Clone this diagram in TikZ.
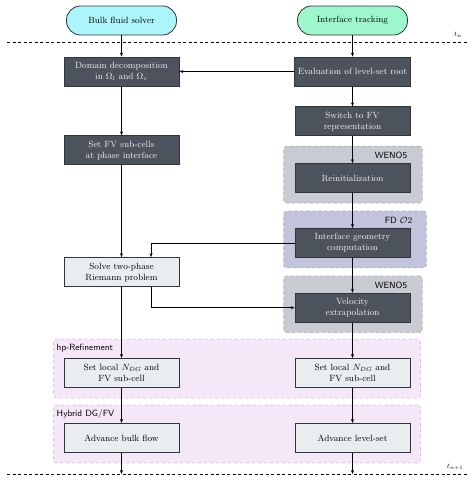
\documentclass[tikz,border=0pt]{standalone}
\usepackage{amsmath,amssymb}
\usepackage{xcolor}
\usepackage{tikz}
\usetikzlibrary{arrows.meta, positioning, calc, fit, backgrounds}
\definecolor{solvercyan}{RGB}{172, 245, 251}
\definecolor{trackgreen}{RGB}{158, 247, 204}
\definecolor{stepdark}{RGB}{76, 83, 93}
\definecolor{stepedge}{RGB}{48, 53, 59}
\definecolor{steplight}{RGB}{234, 237, 239}
\definecolor{wenogray}{RGB}{201, 203, 210}
\definecolor{fdblue}{RGB}{193, 196, 218}
\definecolor{hppink}{RGB}{244, 231, 248}

\begin{document}
\begin{tikzpicture}[
    x=1pt, y=1pt,
    node distance=35pt,
    term/.style={rectangle, draw=stepedge, thick, rounded corners=14pt, minimum width=110pt, minimum height=29pt, align=center, font=\small},
    cyanterm/.style={term, fill=solvercyan},
    greenterm/.style={term, fill=trackgreen},
    box/.style={rectangle, minimum width=115pt, minimum height=29pt, align=center, font=\small},
    darkbox/.style={box, fill=stepdark, draw=stepedge, line width=0.8pt, text=white!88!gray},
    lightbox/.style={box, fill=steplight, draw=stepedge, line width=1pt},
    group/.style={rectangle, dashed, rounded corners=3pt, line width=0.6pt},
    wenogroup/.style={group, fill=wenogray, draw=wenogray!85!black},
    fdgroup/.style={group, fill=fdblue, draw=fdblue!85!black},
    pinkgroup/.style={group, fill=hppink, draw=hppink!80!purple},
    timeline/.style={thick, dash pattern=on 3pt off 2.5pt},
    arrow/.style={-{Stealth[length=4pt, width=3pt]}, line width=0.6pt}
]
\useasboundingbox (0,0) rectangle (474,-480);

% Start terminals
\node[cyanterm] (bulk) at (121.5,-20.5) {Bulk fluid solver};
\node[greenterm] (track) at (352.5,-20.5) {Interface tracking};

% Time levels
\draw[timeline] (7,-42) -- (467,-42);
\draw[timeline] (7,-474) -- (467,-474);
\node[font=\scriptsize] (tn) at (458,-35) {$t_n$};
\node[font=\scriptsize] (tnn) at (455,-467) {$t_{n+1}$};

% Bulk column
\node[darkbox] (domain) at (121.5,-71.5) {Domain decomposition\\in $\Omega_l$ and $\Omega_v$};
\node[darkbox, below=49pt of domain] (subcells) {Set FV sub-cells\\at phase interface};
\node[lightbox, below=92pt of subcells] (riemann) {Solve two-phase\\Riemann problem};
\node[lightbox, at={(121.5,-373)}] (localL) {Set local $N_{DG}$ and\\FV sub-cell};
\node[lightbox, below=of localL] (advanceL) {Advance bulk flow};

% Interface column
\node[darkbox] (levelset) at (352.5,-71.5) {Evaluation of level-set root};
\node[darkbox, below=20pt of levelset] (switch) {Switch to FV\\representation};
\node[darkbox, below=27pt of switch] (reinit) {Reinitialization};
\node[darkbox, below=of reinit] (geometry) {Interface geometry\\computation};
\node[darkbox, below=of geometry] (velocity) {Velocity\\extrapolation};
\node[lightbox, at={(localL -| velocity)}] (localR) {Set local $N_{DG}$ and\\FV sub-cell};
\node[lightbox, at={(advanceL -| velocity)}] (advanceR) {Advance level-set};

% Ends on t_{n+1}
\coordinate (endL) at (121.5,-474);
\coordinate (endR) at (352.5,-474);

% Method groups
\begin{scope}[on background layer]
    \node[wenogroup, fit={([yshift=7pt]reinit.north west) ([xshift=1pt]reinit.south east)}, inner xsep=11pt, inner ysep=10pt,
        label={[anchor=north east, font=\small\sffamily, xshift=-12pt, yshift=-3pt]north east:WENO5}] (weno1) {};
    \node[fdgroup, fit={([yshift=7pt]geometry.north west) ([xshift=5pt]geometry.south east)}, inner xsep=11pt, inner ysep=10pt,
        label={[anchor=north east, font=\small\sffamily, xshift=-11pt, yshift=-3pt]north east:FD $\mathcal{O}2$}] (fd) {};
    \node[wenogroup, fit={([yshift=7pt]velocity.north west) ([xshift=1pt]velocity.south east)}, inner xsep=11pt, inner ysep=10pt,
        label={[anchor=north east, font=\small\sffamily, xshift=-12pt, yshift=-3pt]north east:WENO5}] (weno2) {};
    \node[pinkgroup, fit={([yshift=9pt]localL.north west) (localR.south east)}, inner sep=10pt,
        label={[anchor=north west, font=\small\sffamily, yshift=-2pt]north west:hp-Refinement}] (hp) {};
    \node[pinkgroup, fit={([yshift=8pt]advanceL.north west) (advanceR.south east)}, inner sep=10pt,
        label={[anchor=north west, font=\small\sffamily, yshift=-2pt]north west:Hybrid DG/FV}] (hybrid) {};
\end{scope}

% Arrows
\draw[arrow] (bulk) -- (domain);
\draw[arrow] (track) -- (levelset);
\draw[arrow] (levelset) -- (domain);
\draw[arrow] (domain) -- (subcells);
\draw[arrow] (subcells) -- (riemann);
\draw[arrow] (riemann) -- (localL);
\draw[arrow] (localL) -- (advanceL);
\draw[arrow] (advanceL) -- (endL);
\draw[arrow] (levelset) -- (switch);
\draw[arrow] (switch) -- (reinit);
\draw[arrow] (reinit) -- (geometry);
\draw[arrow] (geometry) -- (velocity);
\draw[arrow] (velocity) -- (localR);
\draw[arrow] (localR) -- (advanceR);
\draw[arrow] (advanceR) -- (endR);
\draw[arrow] (geometry.west) -| ([xshift=29.5pt]riemann.north);
\draw[arrow] ([xshift=29.5pt]riemann.south) |- (velocity.west);

\end{tikzpicture}
\end{document}
